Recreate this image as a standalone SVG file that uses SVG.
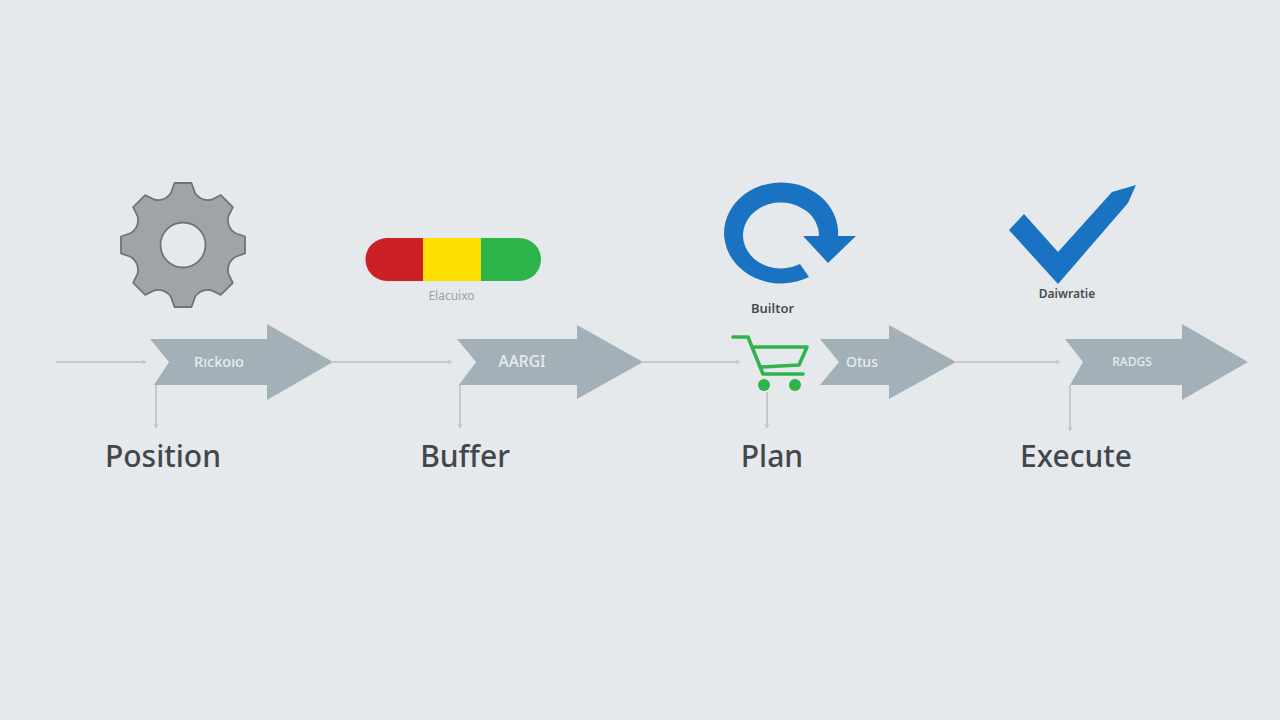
<svg xmlns="http://www.w3.org/2000/svg" width="1280" height="720" viewBox="0 0 1280 720">
<style>
.arrow{fill:#a3b0b8}
.conn{fill:none;stroke:#b8bdc0;stroke-width:1.5;marker-end:url(#head)}
text{font-family:"Noto Sans","Open Sans","Liberation Sans",sans-serif;text-anchor:middle}
.title{font-size:30px;font-weight:500;fill:#41474b}
.inner{font-size:12px;font-weight:500;fill:#e8edf0}
.cap{font-size:12px;font-weight:600;fill:#474c50}
.cart{fill:none;stroke:#2fb34a;stroke-width:3.6;stroke-linejoin:round;stroke-linecap:round}
</style>
<defs>
<marker id="head" viewBox="0 0 6 6" refX="5" refY="3" markerWidth="6" markerHeight="6" markerUnits="userSpaceOnUse" orient="auto">
<path d="M1 1L5 3L1 5" fill="none" stroke="#c4c9cc" stroke-width="1"/>
</marker>
</defs>
<rect width="1280" height="720" fill="#e6e9eb"/>
<g id="connectors">
<path class="conn" d="M56 362H146"/>
<path class="conn" d="M333 362H452"/>
<path class="conn" d="M643 362H740"/>
<path class="conn" d="M956 362H1060"/>
<path class="conn" d="M156 385V428"/>
<path class="conn" d="M460 385V428"/>
<path class="conn" d="M767 392V428"/>
<path class="conn" d="M1070 385V431"/>
</g>
<g id="node-position">
<path d="M-12 -52L-8.500 -62L8.500 -62L12 -52Q17.990 -43.420 28.280 -45.250L37.830 -49.850L49.850 -37.830L45.250 -28.280Q43.420 -17.990 52 -12L62 -8.500L62 8.500L52 12Q43.420 17.990 45.250 28.280L49.850 37.830L37.830 49.850L28.280 45.250Q17.990 43.420 12 52L8.500 62L-8.500 62L-12 52Q-17.990 43.420 -28.280 45.250L-37.830 49.850L-49.850 37.830L-45.250 28.280Q-43.420 17.990 -52 12L-62 8.500L-62 -8.500L-52 -12Q-43.420 -17.990 -45.250 -28.280L-49.850 -37.830L-37.830 -49.850L-28.280 -45.250Q-17.990 -43.420 -12 -52ZM22.500 0A22.500 22.500 0 1 0 -22.500 0A22.500 22.500 0 1 0 22.500 0Z" transform="translate(183 245)" fill="#a1a4a6" fill-rule="evenodd" stroke="#717476" stroke-width="1.8" stroke-linejoin="round"/>
<path class="arrow" d="M150 339H267V324L333 362L267 400V385H154L169 362Z"/>
<text class="inner" x="219" y="367" style="font-size:14.500px">Rıckoıo</text>
<text class="title" x="163" y="466.500">Position</text>
</g>
<g id="node-buffer">
<path d="M423 238H387A21.500 21.500 0 0 0 387 281H423Z" fill="#cb2026"/>
<rect x="423" y="238" width="58.500" height="43" fill="#fde000"/>
<path d="M481 238H519.500A21.500 21.500 0 0 1 519.500 281H481Z" fill="#2bb54a"/>
<text x="451.500" y="300" font-size="12" fill="#9a9fa3">Elacuixo</text>
<path class="arrow" d="M457 339H577V325L643 362L577 399V385H459L476 362Z"/>
<text class="inner" x="522" y="367" style="font-size:15.500px">AARGI</text>
<text class="title" x="465" y="466.500">Buffer</text>
</g>
<g id="node-plan">
<path d="M809 277A57 50.500 0 1 1 838 236L819 236A38 33 0 1 0 800 264Z" fill="#1a73c2"/>
<path d="M803 236H856L828 263Z" fill="#1a73c2"/>
<text class="cap" x="772.500" y="313" style="font-size:13px">Builtor</text>
<path class="cart" d="M733 337H748L763 374H803M755 347H807L799 365L762 367"/>
<circle cx="764" cy="385" r="6" fill="#2fb34a"/>
<circle cx="795" cy="385" r="6" fill="#2fb34a"/>
<path class="arrow" d="M820 339H889V325L956 362L889 399V385H820L839 362Z"/>
<text class="inner" x="862" y="367" style="font-size:14px">Otus</text>
<text class="title" x="772" y="466.500">Plan</text>
</g>
<g id="node-execute">
<path d="M1009 230L1024 214L1058 252L1112 192L1136 185L1128 203L1058 284Z" fill="#1a73c2"/>
<text class="cap" x="1067" y="298">Daiwratie</text>
<path class="arrow" d="M1065 339H1182V324L1248 362L1182 400V385H1070L1083 362Z"/>
<text class="inner" x="1132" y="366">RADGS</text>
<text class="title" x="1076" y="466.500">Execute</text>
</g>
</svg>
